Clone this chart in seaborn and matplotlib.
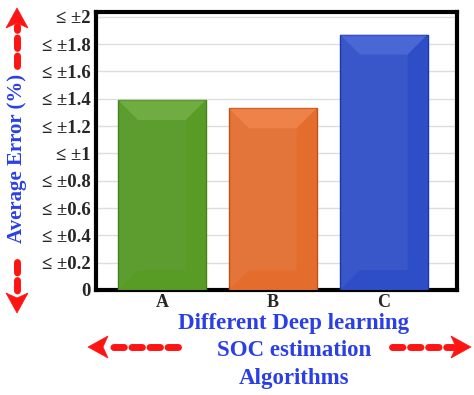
import matplotlib
matplotlib.use("Agg")
import matplotlib.pyplot as plt
import seaborn as sns
import pandas as pd
from matplotlib.patches import Polygon
from matplotlib.lines import Line2D
from matplotlib.colors import to_rgb

# data
algorithms = ["A", "B", "C"]
avg_error = [1.39, 1.33, 1.87]
bar_colors = ["#5AAE1C", "#FF6C1E", "#2149E0"]
ytick_vals = [0, 0.2, 0.4, 0.6, 0.8, 1.0, 1.2, 1.4, 1.6, 1.8, 2.0]
ytick_labels = ["0", "≤ ±0.2", "≤ ±0.4", "≤ ±0.6", "≤ ±0.8", "≤ ±1",
                "≤ ±1.2", "≤ ±1.4", "≤ ±1.6", "≤ ±1.8", "≤ ±2"]

df = pd.DataFrame({"alg": algorithms, "err": avg_error})

sns.set_theme(style="white")
plt.rcParams["font.family"] = ["Liberation Serif", "DejaVu Serif"]

W, H = 474, 395
fig = plt.figure(figsize=(W / 100, H / 100), dpi=100)
ax = fig.add_axes([96 / W, 1 - 290 / H, 361 / W, 278 / H])

sns.barplot(data=df, x="alg", y="err", hue="alg", palette=bar_colors,
            width=0.79, legend=False, ax=ax, zorder=3)

ax.set_ylim(0, 2.035)
ax.set_xlim(-0.595, 2.66)

# soft bevel on each bar, built from the bar geometry
bev_px = 20
for patch, col in zip(ax.patches, bar_colors):
    x0, y0 = patch.get_x(), patch.get_y()
    w, h = patch.get_width(), patch.get_height()
    rgb = to_rgb(col)
    patch.set_edgecolor(tuple(c * 0.75 for c in rgb))
    patch.set_linewidth(1.0)
    trans = ax.transData
    px0, py0 = trans.transform((x0, y0))
    px1, py1 = trans.transform((x0 + w, y0 + h))
    inv = trans.inverted()
    ix0, iy0 = inv.transform((px0 + bev_px, py0 + bev_px))
    ix1, iy1 = inv.transform((px1 - bev_px, py1 - bev_px))
    light = tuple(min(1, c + (1 - c) * 0.3) for c in rgb)
    dark = tuple(c * 0.9 for c in rgb)
    faces = [
        ([(x0, y0 + h), (x0 + w, y0 + h), (ix1, iy1), (ix0, iy1)], light),
        ([(x0 + w, y0), (x0 + w, y0 + h), (ix1, iy1), (ix1, iy0)], dark),
        ([(x0, y0), (x0 + w, y0), (ix1, iy0), (ix0, iy0)], dark),
    ]
    for pts, fc in faces:
        ax.add_patch(Polygon(pts, closed=True, facecolor=fc, edgecolor="none",
                             alpha=0.4, zorder=3.5))

ax.set_yticks(ytick_vals)
ax.set_yticklabels(ytick_labels, fontsize=13.5, fontweight="bold")
ax.tick_params(axis="x", labelsize=13, pad=3, length=0)
for lbl in ax.get_xticklabels():
    lbl.set_fontweight("bold")
ax.tick_params(axis="y", pad=4, length=0)
ax.yaxis.grid(True, color="#dddddd", linewidth=1, zorder=0)
ax.set_axisbelow(True)
for sp in ax.spines.values():
    sp.set_color("black")
    sp.set_linewidth(3)
ax.set_xlabel("")
ax.set_ylabel("")

blue = "#2A3FE6"
red = "#FF1414"
fig.text(17 / W, 1 - 158 / H, "Average Error (%)", rotation=90, color=blue,
         fontsize=15, fontweight="bold", ha="center", va="center")
fig.text(294 / W, 1 - 351 / H, "Different Deep learning\nSOC estimation\nAlgorithms",
         color=blue, fontsize=16.5, fontweight="bold", ha="center", va="center",
         linespacing=1.38)


def dashed_arrow(x_start, y_start, x_tip, y_tip):
    # pixel coords from the top-left corner
    dx, dy = x_tip - x_start, y_tip - y_start
    length = (dx ** 2 + dy ** 2) ** 0.5
    ux, uy = dx / length, dy / length
    head_len, head_w = 20, 11
    bx, by = x_tip - ux * head_len, y_tip - uy * head_len
    fx = lambda px: px / W
    fy = lambda py: 1 - py / H
    fig.add_artist(Line2D([fx(x_start), fx(bx + ux * 2)], [fy(y_start), fy(by + uy * 2)],
                          transform=fig.transFigure, color=red, lw=5,
                          linestyle=(0, (1.5, 1.1)), dash_capstyle="round"))
    nx, ny = -uy, ux
    pts = [(fx(x_tip), fy(y_tip)),
           (fx(bx + nx * head_w), fy(by + ny * head_w)),
           (fx(bx + ux * 5), fy(by + uy * 5)),
           (fx(bx - nx * head_w), fy(by - ny * head_w))]
    fig.add_artist(Polygon(pts, closed=True, transform=fig.transFigure,
                           facecolor=red, edgecolor=red, lw=0.5))


dashed_arrow(17, 66, 17, 8)
dashed_arrow(17, 262, 17, 313)
dashed_arrow(178, 347, 88, 347)
dashed_arrow(392, 347, 471, 347)

fig.savefig("out.png", dpi=100)
